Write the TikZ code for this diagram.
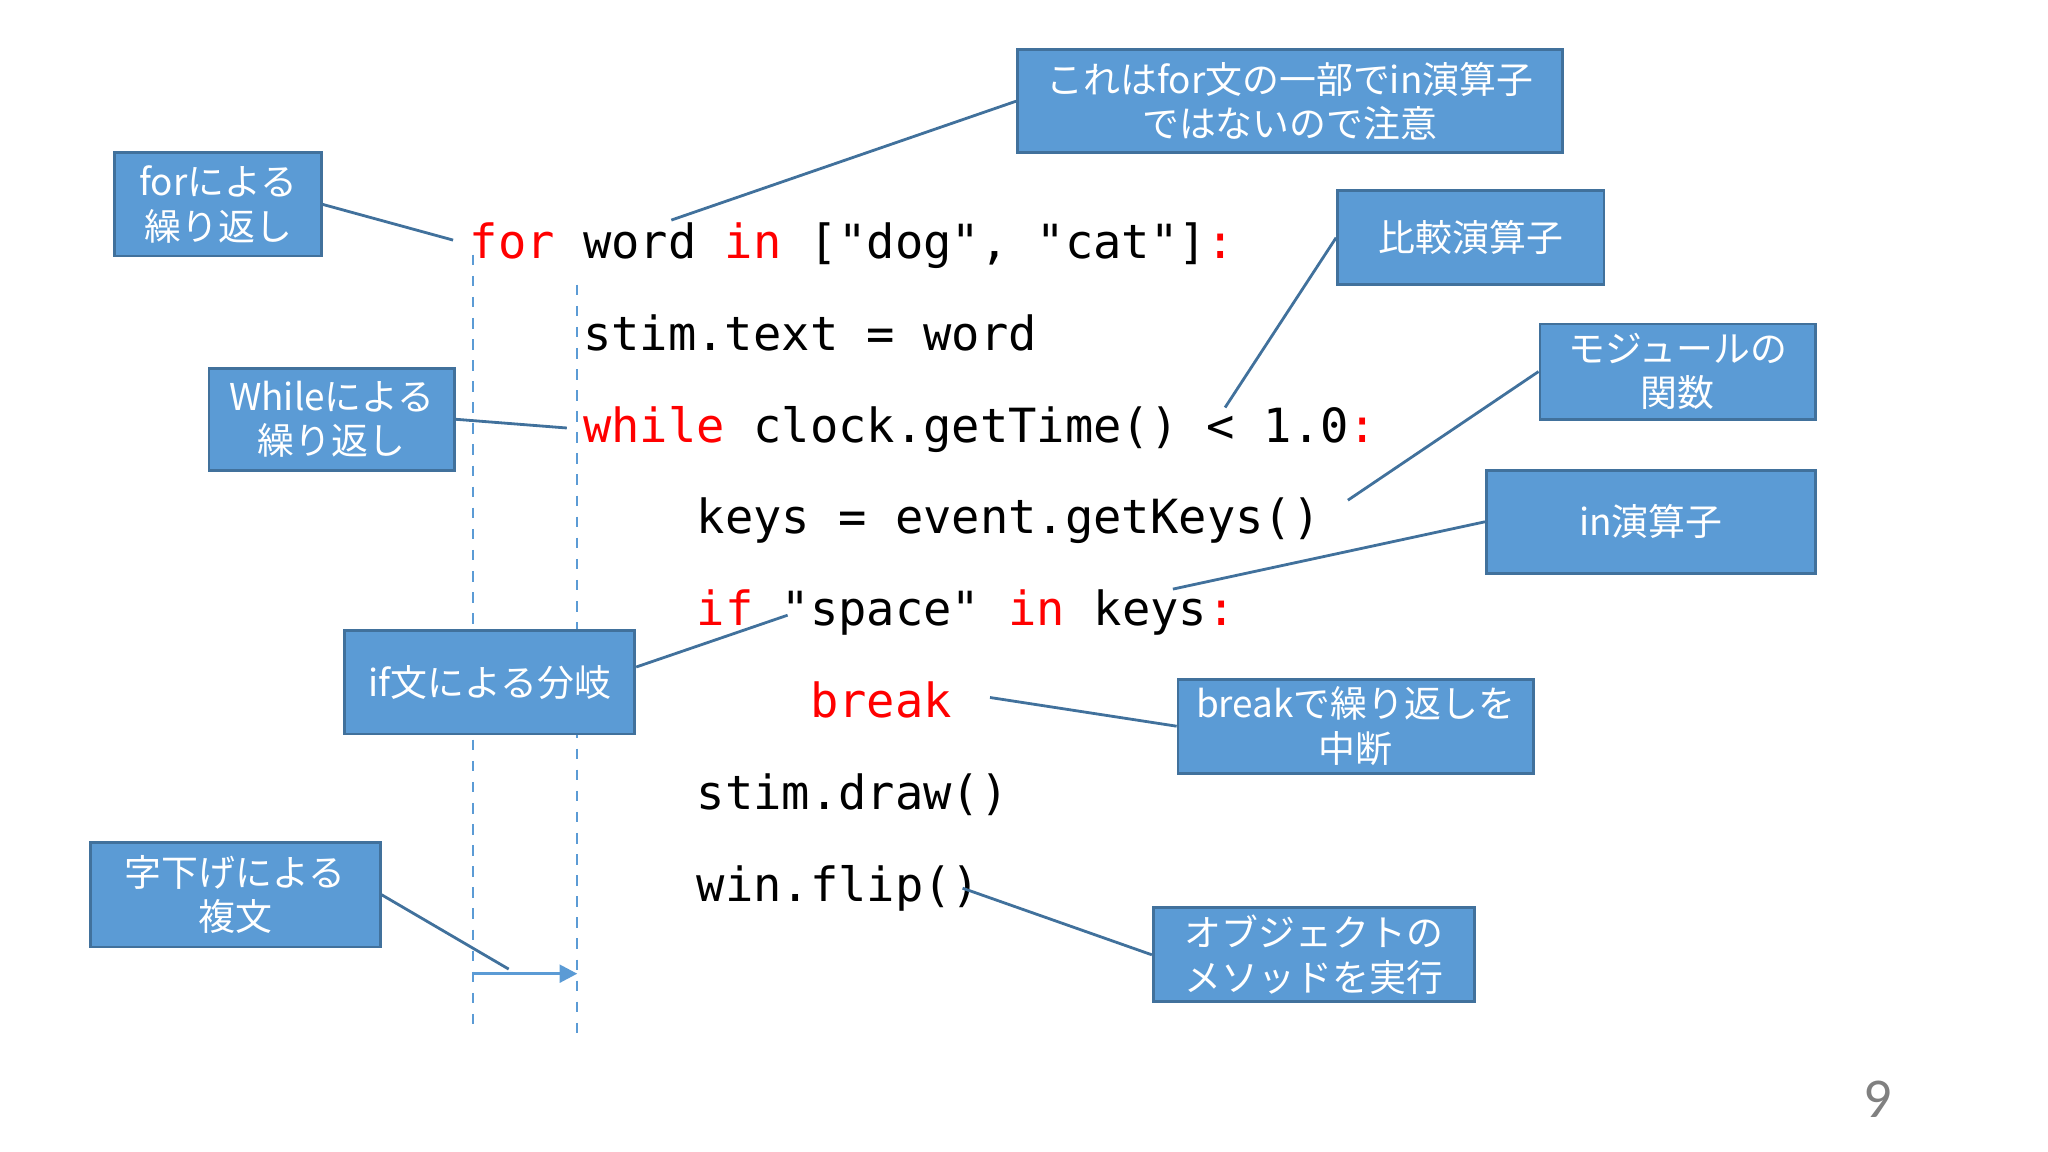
\documentclass[tikz,border=0pt]{standalone}
\usepackage{fontspec}
\setmainfont{Noto Sans CJK JP}
\setmonofont{DejaVu Sans Mono}
\newfontfamily\pagefont{Carlito}
\usetikzlibrary{arrows.meta}
\definecolor{boxfill}{HTML}{5B9BD5}
\definecolor{boxedge}{HTML}{41719C}
\definecolor{kw}{HTML}{FF0000}
\newcommand{\kw}[1]{\textcolor{kw}{#1}}

\begin{document}
\begin{tikzpicture}
[note/.style={draw=boxedge, line width=0.8pt, fill=boxfill, text=white, align=center,
   inner sep=0pt, font={\fontsize{10.5pt}{12.6pt}\selectfont}},
 code/.style={anchor=base west, inner sep=0pt, font={\ttfamily\fontsize{13.4pt}{16pt}\selectfont}},
 lead/.style={draw=boxedge, line width=0.8pt},
 guide/.style={draw=boxfill, line width=0.5pt, dashed}]
\useasboundingbox (0,0) rectangle (20.48,-11.52);

% code lines
\node (c1) at (4.69,-2.586) [code] {\kw{for} word \kw{in} ["dog", "cat"]\kw{:}};
\node (c2) at (5.825,-3.505) [code] {stim.text = word};
\node (c3) at (5.825,-4.422) [code] {\kw{while} clock.getTime() < 1.0\kw{:}};
\node (c4) at (6.96,-5.340) [code] {keys = event.getKeys()};
\node (c5) at (6.96,-6.258) [code] {\kw{if} "space" \kw{in} keys\kw{:}};
\node (c6) at (8.095,-7.176) [code] {\kw{break}};
\node (c7) at (6.96,-8.094) [code] {stim.draw()};
\node (c8) at (6.96,-9.013) [code] {win.flip()};

% indent guides
\coordinate (g1top) at (4.728,-2.547);
\coordinate (g1bot) at (4.728,-10.331);
\coordinate (g2top) at (5.773,-2.847);
\coordinate (g2bot) at (5.773,-10.331);
\draw[guide] (g1top) -- (g1bot);
\draw[guide] (g2top) -- (g2bot);
\coordinate (ia) at (4.728,-9.737);
\coordinate (ib) at (5.773,-9.737);
\draw[-{Triangle[length=5pt,width=5pt]}, draw=boxfill, fill=boxfill, line width=0.9pt] (ia) -- (ib);

% notes
\node (forbox) at (2.181,-2.044) [note, minimum width=2.064cm, minimum height=1.032cm] {forによる\\繰り返し};
\node (notebox) at (12.898,-1.012) [note, minimum width=5.446cm, minimum height=1.032cm] {これはfor文の一部でin演算子\\ではないので注意};
\node (cmpbox) at (14.707,-2.377) [note, minimum width=2.664cm, minimum height=0.94cm] {比較演算子};
\node (modbox) at (16.777,-3.716) [note, minimum width=2.756cm, minimum height=0.953cm] {モジュールの\\関数};
\node (whilebox) at (3.318,-4.193) [note, minimum width=2.455cm, minimum height=1.019cm] {Whileによる\\繰り返し};
\node (inbox) at (16.509,-5.218) [note, minimum width=3.291cm, minimum height=1.032cm] {in演算子};
\node (ifbox) at (4.898,-6.824) [note, minimum width=2.9cm, minimum height=1.032cm] {if文による分岐};
\node (breakbox) at (13.557,-7.262) [note, minimum width=3.553cm, minimum height=0.94cm] {breakで繰り返しを\\中断};
\node (indentbox) at (2.351,-8.947) [note, minimum width=2.9cm, minimum height=1.045cm] {字下げによる\\複文};
\node (methbox) at (13.139,-9.548) [note, minimum width=3.213cm, minimum height=0.94cm] {オブジェクトの\\メソッドを実行};

% leader ends
\coordinate (forend) at (4.531,-2.401);
\coordinate (noteend) at (6.713,-2.201);
\coordinate (cmpend) at (12.251,-4.075);
\coordinate (modend) at (13.479,-5.002);
\coordinate (whileend) at (5.668,-4.280);
\coordinate (inend) at (11.729,-5.891);
\coordinate (ifend) at (7.876,-6.152);
\coordinate (breakend) at (9.9,-6.975);
\coordinate (indentend) at (5.087,-9.691);
\coordinate (methend) at (9.626,-8.882);

\draw[lead] (forbox.east) -- (forend);
\draw[lead] (notebox.west) -- (noteend);
\draw[lead] (cmpbox.west) -- (cmpend);
\draw[lead] (modbox.west) -- (modend);
\draw[lead] (whilebox.east) -- (whileend);
\draw[lead] (inbox.west) -- (inend);
\draw[lead] (ifbox.6) -- (ifend);
\draw[lead] (breakbox.west) -- (breakend);
\draw[lead] (indentbox.east) -- (indentend);
\draw[lead] (methbox.west) -- (methend);

\node (page) at (18.782,-10.997) [text=black!50, font={\pagefont\fontsize{16pt}{18pt}\selectfont}] {9};
\end{tikzpicture}
\end{document}
